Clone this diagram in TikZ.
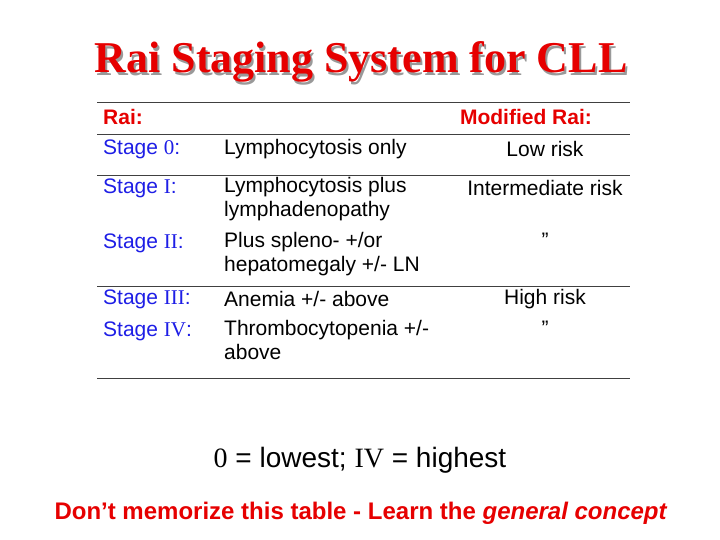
\documentclass[tikz,border=0pt]{standalone}
\usepackage{fontspec}
\setmainfont{Liberation Sans}
\newfontfamily\tms{Liberation Serif}
\begin{document}
\begin{tikzpicture}[x=1pt,y=-1pt]
\definecolor{tred}{RGB}{230,0,0}
\definecolor{sblue}{RGB}{30,30,230}
\tikzset{cell/.style={anchor=west,inner sep=0,font=\fontsize{21}{24.5}\selectfont},
 stg/.style={cell,text=sblue},
 rc/.style={anchor=center,inner sep=0,font=\fontsize{21}{24.5}\selectfont},
 rule/.style={draw=black!75,line width=0.8pt}}
\useasboundingbox (0,0) rectangle (720,540);
\fill[white] (0,0) rectangle (720,540);
\node[font=\tms\bfseries\fontsize{44}{48}\selectfont,text=black!40] at (363,65) {Rai Staging System for CLL};
\node (title) [font=\tms\bfseries\fontsize{44}{48}\selectfont,text=tred] at (361,62) {Rai Staging System for CLL};
\foreach \y in {102,134,175,286,378} \draw[rule] (97,\y) -- (630,\y);
\node (h1) [cell,text=tred,font=\bfseries\fontsize{21}{24}\selectfont] at (103,117) {Rai:};
\node (h2) [rc,text=tred,font=\bfseries\fontsize{21}{24}\selectfont] at (526,117) {Modified Rai:};
\node (s0) [stg] at (103,149) {Stage {\tms 0}:};
\node (d0) [cell] at (224,149) {Lymphocytosis only};
\node (r0) [rc] at (545,149) {Low risk};
\node (s1) [stg] at (103,188) {Stage {\tms I}:};
\node (d1) [cell,align=left,anchor=north west] at (224,177) {Lymphocytosis plus\\lymphadenopathy};
\node (r1) [rc] at (545,188) {Intermediate risk};
\node (s2) [stg] at (103,243) {Stage {\tms II}:};
\node (d2) [cell,align=left,anchor=north west] at (224,232) {Plus spleno- +/or\\hepatomegaly +/- LN};
\node (r2) [rc] at (545,240) {"};
\node (s3) [stg] at (103,299) {Stage {\tms III}:};
\node (d3) [cell] at (224,299) {Anemia +/- above};
\node (r3) [rc] at (545,299) {High risk};
\node (s4) [stg] at (103,331) {Stage {\tms IV}:};
\node (d4) [cell,align=left,anchor=north west] at (224,320) {Thrombocytopenia +/-\\above};
\node (r4) [rc] at (545,328) {"};
\node (note) [font=\fontsize{28}{32}\selectfont] at (360,460) {{\tms 0} = lowest; {\tms IV} = highest};
\node (foot) [text=tred,font=\bfseries\fontsize{24}{27}\selectfont] at (361,513) {Don’t memorize this table - Learn the \textit{general concept}};
\end{tikzpicture}
\end{document}
